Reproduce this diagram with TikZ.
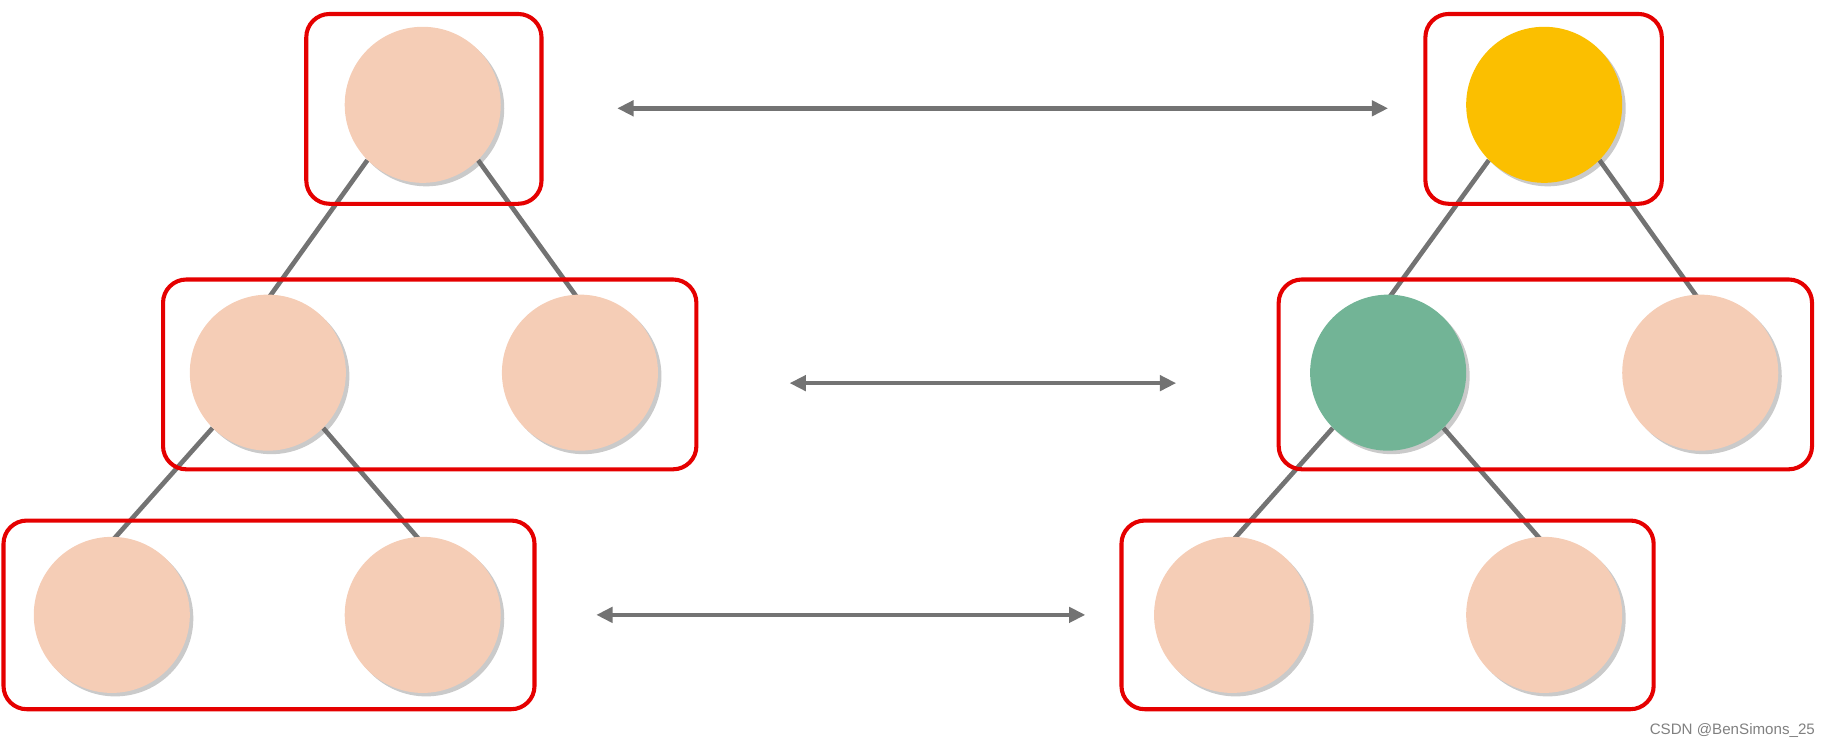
\documentclass[tikz,border=0pt]{standalone}
\usepackage{fontspec}
\setmainfont{Liberation Sans}
\usetikzlibrary{shadows,arrows.meta,backgrounds}
\begin{document}
\begin{tikzpicture}[x=1pt,y=-1pt,
  nd/.style={circle,minimum size=134pt,inner sep=0,fill=#1,drop shadow={shadow xshift=3pt,shadow yshift=-3pt,opacity=0.35,fill=black!60}},
  nd/.default={peach},
  grp/.style={draw=red!90!black,line width=3.5pt,rounded corners=20pt},
  edge/.style={draw=gray!90!black,line width=4pt},
  arr/.style={draw=gray!90!black,line width=4pt,{Triangle[length=14pt,width=13pt]}-{Triangle[length=14pt,width=13pt]}}]
\definecolor{peach}{HTML}{F5CDB6}
\definecolor{gold}{HTML}{FBBF00}
\definecolor{sea}{HTML}{72B496}
\useasboundingbox (0,0) rectangle (1568,642);
\node[nd] (a1) at (363,90) {};
\node[nd] (a2) at (230,320) {};
\node[nd] (a3) at (498,320) {};
\node[nd] (a4) at (96,528) {};
\node[nd] (a5) at (363,528) {};
\node[nd=gold] (b1) at (1326,90) {};
\node[nd=sea] (b2) at (1192,320) {};
\node[nd] (b3) at (1460,320) {};
\node[nd] (b4) at (1058,528) {};
\node[nd] (b5) at (1326,528) {};
\begin{scope}[on background layer]
\foreach \p/\c/\q/\d in {a1/a2/a3/a5,b1/b2/b3/b5}
  \draw[edge] (\p.225) -- ([yshift=-4pt]\c.north) (\p.315) -- ([yshift=-6pt]\q.north);
\draw[edge] (a2.225) -- ([yshift=-4pt]a4.north) (a2.315) -- ([yshift=-6pt]a5.north);
\draw[edge] (b2.225) -- ([yshift=-4pt]b4.north) (b2.315) -- ([yshift=-6pt]b5.north);
\end{scope}
\draw[grp] (263,12) rectangle (465,175);
\draw[grp] (140,240) rectangle (598,403);
\draw[grp] (3,447) rectangle (459,609);
\draw[grp] (1224,12) rectangle (1427,175);
\draw[grp] (1098,240) rectangle (1556,403);
\draw[grp] (963,447) rectangle (1420,609);
\coordinate (l1) at (530,93); \coordinate (r1) at (1192,93);
\coordinate (l2) at (678,329); \coordinate (r2) at (1010,329);
\coordinate (l3) at (512,528); \coordinate (r3) at (932,528);
\draw[arr] (l1) -- (r1);
\draw[arr] (l2) -- (r2);
\draw[arr] (l3) -- (r3);
\node[text=gray,font=\fontsize{13}{15}\selectfont,anchor=east] (wm) at (1562,627) {CSDN @BenSimons\_25};
\end{tikzpicture}
\end{document}
